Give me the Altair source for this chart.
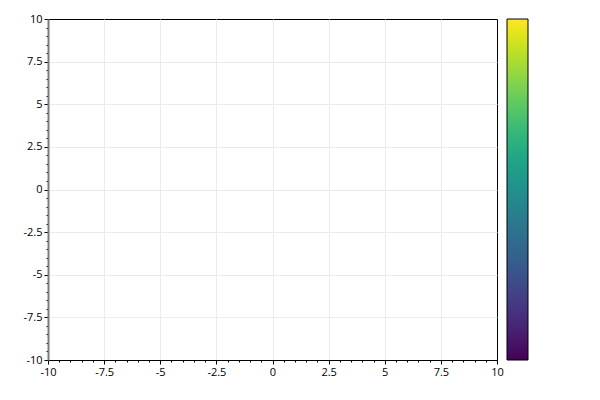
import altair as alt
import pandas as pd

# Axis ranges and ticks
x_domain = [-10, 10]
y_domain = [-10, 10]
tick_values = [i * 0.5 for i in range(-20, 21)]   # minor ticks every 0.5
major_step = 2.5                                  # labelled ticks / grid
color_domain = [0, 1]                             # colour bar (unlabelled)

# The reference shows no data marks; placeholder rows only carry the colour scale
px = [0, 0]
py = [0, 0]
pc = color_domain

df = pd.DataFrame({"x": px, "y": py, "c": pc})

FONT = "Open Sans"
is_major = f"abs(datum.value % {major_step}) < 1e-9"
inner_major = f"{is_major} && abs(datum.value) < 10"


def make_axis(domain_color, domain_width):
    return alt.Axis(
        values=tick_values,
        title=None,
        labelExpr=f"{is_major} ? '' + datum.value : ''",
        labelFont=FONT,
        labelFontSize=11,
        labelColor="#000000",
        labelPadding=2,
        tickColor="#000000",
        tickWidth=1,
        tickSize={"condition": {"test": is_major, "value": 4}, "value": 2},
        grid=True,
        gridColor="#ebebeb",
        gridWidth=1,
        gridOpacity={"condition": {"test": inner_major, "value": 1}, "value": 0},
        domainColor=domain_color,
        domainWidth=domain_width,
        labelFlush=False,
        labelOverlap=False,
    )


chart = (
    alt.Chart(df)
    .mark_point(opacity=0)
    .encode(
        x=alt.X("x:Q", scale=alt.Scale(domain=x_domain, nice=False, zero=False),
                axis=make_axis("#000000", 1)),
        y=alt.Y("y:Q", scale=alt.Scale(domain=y_domain, nice=False, zero=False),
                axis=make_axis("#7a7a7a", 2)),
        color=alt.Color(
            "c:Q",
            scale=alt.Scale(scheme="viridis", domain=color_domain),
            legend=alt.Legend(
                title=None,
                direction="vertical",
                orient="right",
                gradientLength=341,
                gradientThickness=21,
                gradientStrokeColor="#000000",
                gradientStrokeWidth=1,
                labelOpacity=0,
                labelExpr="''",
                offset=10,
                padding=0,
            ),
        ),
    )
    .properties(
        width=449,
        height=341,
        autosize=alt.AutoSizeParams(type="none"),
        padding={"left": 40, "top": 11, "right": 80, "bottom": 30},
    )
    .configure_view(stroke="#000000", strokeWidth=1)
)

chart.save("out.html", embed_options={"renderer": "svg", "actions": False})
